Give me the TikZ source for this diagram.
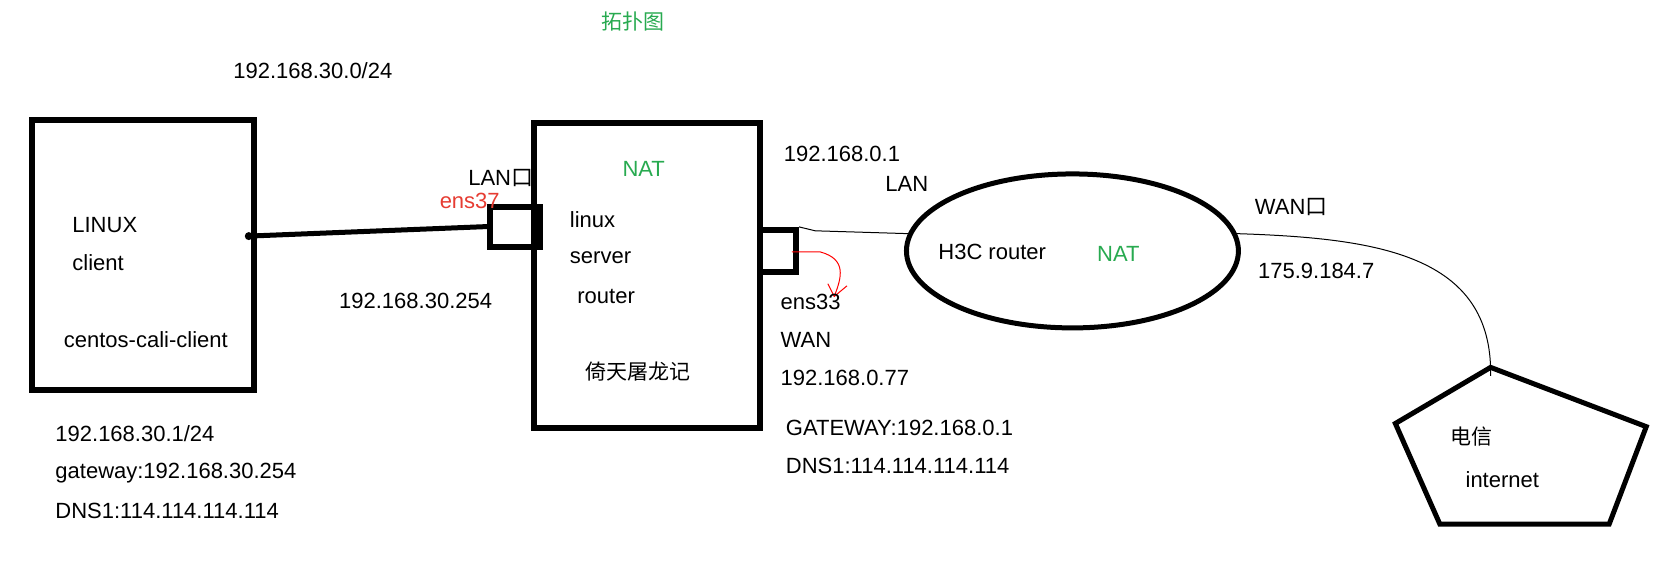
\documentclass[tikz,border=0pt]{standalone}
\usepackage{fontspec}
\usetikzlibrary{shapes.geometric}
\setmainfont{Liberation Sans}
\newfontfamily\cjk{Noto Sans CJK SC}
\begin{document}
\begin{tikzpicture}[x=0.5294pt,y=-0.5294pt,
  lbl/.style={anchor=west,inner sep=0,font=\fontsize{11}{12}\selectfont},
  cj/.style={font=\cjk\fontsize{10.5}{12}\selectfont},
  thickbox/.style={draw,line width=3pt},
  grn/.style={text={rgb,255:red,40;green,170;blue,80}},
  rd/.style={text={rgb,255:red,230;green,60;blue,50}}]
\useasboundingbox (0,0) rectangle (1568,538);
\node[thickbox,minimum width=111pt,minimum height=135pt,inner sep=0] (client) at (135,240.5) {};
\node[thickbox,minimum width=113pt,minimum height=152.5pt,inner sep=0] (server) at (611.5,260) {};
\node[thickbox,minimum width=25pt,minimum height=20pt,inner sep=0] (lport) at (486.5,214) {};
\node[thickbox,minimum width=18pt,minimum height=21pt,inner sep=0] (rport) at (735,237) {};
\node[draw,line width=2.5pt,ellipse,minimum width=166pt,minimum height=77pt,inner sep=0] (h3c) at (1013,237) {};
\coordinate (cdot) at (235,223);
\fill (cdot) circle (2pt);
\draw[line width=2.5pt] (cdot) -- (lport.west);
\draw[line width=0.5pt] (rport.north east) -- (770,218) -- (h3c.174);
\draw[line width=2.5pt] (1408,347) coordinate (ptop) -- (1555,403) -- (1520,495) -- (1360,495) -- (1318,400) -- cycle;
\draw[line width=0.5pt] (h3c.6) .. controls (1300,225) and (1410,240) .. (1408,355);
\draw[red,line width=0.5pt] (748,238) -- (775,238) .. controls (800,245) and (795,262) .. (788,280);
\draw[red,line width=0.5pt] (782,268) -- (788,280) -- (800,270);
\node[lbl,grn,cj] (title) at (568,20) {拓扑图};
\node[lbl] (n1) at (220,67) {192.168.30.0/24};
\node[lbl] (n2) at (68,213) {LINUX};
\node[lbl] (n3) at (68,248) {client};
\node[lbl] (n4) at (60,321) {centos-cali-client};
\node[lbl] (n5) at (52,410) {192.168.30.1/24};
\node[lbl] (n6) at (52,447) {gateway:192.168.30.254};
\node[lbl] (n7) at (52,483) {DNS1:114.114.114.114};
\node[lbl] (n8) at (442,168) {LAN{\cjk 口}};
\node[lbl,rd] (n9) at (415,190) {ens37};
\node[lbl,grn,anchor=center] (n11) at (608,160) {NAT};
\node[lbl] (n10) at (320,284) {192.168.30.254};
\node[lbl] (n12) at (538,207) {linux};
\node[lbl] (n13) at (538,243) {server};
\node[lbl] (n14) at (545,280) {router};
\node[lbl,cj] (n15) at (553,351) {倚天屠龙记};
\node[lbl] (n16) at (740,145) {192.168.0.1};
\node[lbl] (n17) at (836,174) {LAN};
\node[lbl] (n18) at (737,285) {ens33};
\node[lbl] (n19) at (737,321) {WAN};
\node[lbl] (n20) at (737,357) {192.168.0.77};
\node[lbl] (n21) at (742,404) {GATEWAY:192.168.0.1};
\node[lbl] (n22) at (742,440) {DNS1:114.114.114.114};
\node[lbl] (n23) at (886,238) {H3C router};
\node[lbl,grn] (n24) at (1036,240) {NAT};
\node[lbl] (n25) at (1185,196) {WAN{\cjk 口}};
\node[lbl] (n26) at (1188,256) {175.9.184.7};
\node[lbl,cj] (n27) at (1370,412) {电信};
\node[lbl] (n28) at (1384,453) {internet};
\end{tikzpicture}
\end{document}
